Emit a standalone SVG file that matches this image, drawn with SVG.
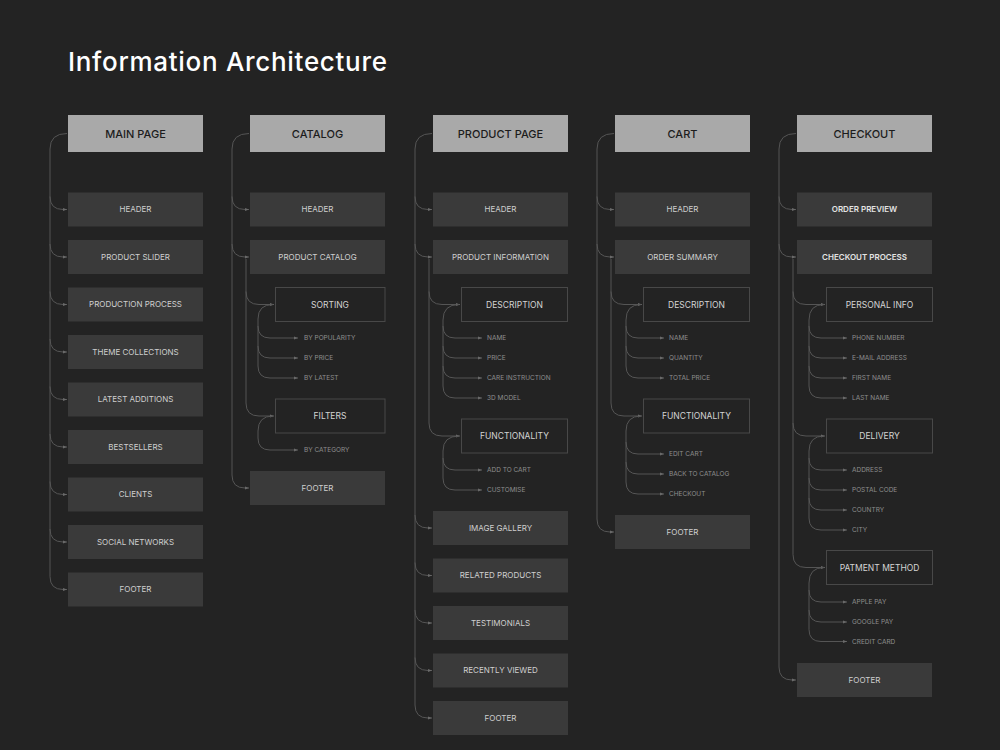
<svg xmlns="http://www.w3.org/2000/svg" width="1000" height="750" viewBox="0 0 1000 750">
<defs>
<marker id="ar" viewBox="0 0 4 4" refX="4" refY="2" markerWidth="4" markerHeight="4" markerUnits="userSpaceOnUse" orient="auto">
<path d="M0,0.6 L4,2 L0,3.4 Z" fill="#6a6a6a"/>
</marker>
<style>
text{font-family:Inter,"Noto Sans","Liberation Sans",sans-serif;text-anchor:middle}
.root rect{fill:#a9a9a9}
.root text{font-size:11px;font-weight:500;fill:#1c1c1c}
.l1 rect{fill:#3a3a3a}
.l1 text{font-size:8px;fill:#cfcfcf}
.l1b text{font-weight:600;fill:#e4e4e4}
.l2 rect{fill:none;stroke:#484848;stroke-width:1}
.l2 text{font-size:8.5px;fill:#d4d4d4}
.leaf{font-size:6.5px;fill:#8e8e8e;text-anchor:start}
#connectors path{fill:none;stroke:#555;stroke-width:1}
</style>
</defs>
<rect width="1000" height="750" fill="#232323"/>
<text x="68" y="71" style="font-size:26px;font-weight:500;fill:#fff;text-anchor:start;letter-spacing:0.7px">Information Architecture</text>

<g id="connectors">
<!-- main page -->
<path d="M67,133.5 Q50,133.5 50,149 V576.5 Q50,589.5 63,589.5 H67" marker-end="url(#ar)"/>
<path d="M50,196.5 Q50,209.5 63,209.5 H67" marker-end="url(#ar)"/>
<path d="M50,244 Q50,257 63,257 H67" marker-end="url(#ar)"/>
<path d="M50,291.5 Q50,304.5 63,304.5 H67" marker-end="url(#ar)"/>
<path d="M50,339 Q50,352 63,352 H67" marker-end="url(#ar)"/>
<path d="M50,386.5 Q50,399.5 63,399.5 H67" marker-end="url(#ar)"/>
<path d="M50,434 Q50,447 63,447 H67" marker-end="url(#ar)"/>
<path d="M50,481.5 Q50,494.5 63,494.5 H67" marker-end="url(#ar)"/>
<path d="M50,529 Q50,542 63,542 H67" marker-end="url(#ar)"/>
<!-- catalog -->
<path d="M249,133.5 Q232,133.5 232,149 V475 Q232,488 245,488 H249" marker-end="url(#ar)"/>
<path d="M232,196.5 Q232,209.5 245,209.5 H249" marker-end="url(#ar)"/>
<path d="M232,244 Q232,257 245,257 H249" marker-end="url(#ar)"/>
<path d="M246,259 V403 Q246,416 259,416 H274" marker-end="url(#ar)"/>
<path d="M246,291.5 Q246,304.5 259,304.5 H274" marker-end="url(#ar)"/>
<path d="M273,304.5 Q258,304.5 258,319 V366 Q258,378 270,378 H298" marker-end="url(#ar)"/>
<path d="M258,326 Q258,338 270,338 H298" marker-end="url(#ar)"/>
<path d="M258,346 Q258,358 270,358 H298" marker-end="url(#ar)"/>
<path d="M273,416 Q258,416 258,431 V438 Q258,450 270,450 H298" marker-end="url(#ar)"/>
<!-- product page -->
<path d="M432,133.5 Q415,133.5 415,149 V705 Q415,718 428,718 H432" marker-end="url(#ar)"/>
<path d="M415,196.5 Q415,209.5 428,209.5 H432" marker-end="url(#ar)"/>
<path d="M415,244 Q415,257 428,257 H432" marker-end="url(#ar)"/>
<path d="M415,515 Q415,528 428,528 H432" marker-end="url(#ar)"/>
<path d="M415,562.5 Q415,575.5 428,575.5 H432" marker-end="url(#ar)"/>
<path d="M415,610 Q415,623 428,623 H432" marker-end="url(#ar)"/>
<path d="M415,657.5 Q415,670.5 428,670.5 H432" marker-end="url(#ar)"/>
<path d="M429,259 V423 Q429,436 442,436 H460" marker-end="url(#ar)"/>
<path d="M429,291.5 Q429,304.5 442,304.5 H460" marker-end="url(#ar)"/>
<path d="M459,304.5 Q443,304.5 443,320 V386 Q443,398 455,398 H482" marker-end="url(#ar)"/>
<path d="M443,326 Q443,338 455,338 H482" marker-end="url(#ar)"/>
<path d="M443,346 Q443,358 455,358 H482" marker-end="url(#ar)"/>
<path d="M443,366 Q443,378 455,378 H482" marker-end="url(#ar)"/>
<path d="M459,436 Q443,436 443,451 V478 Q443,490 455,490 H482" marker-end="url(#ar)"/>
<path d="M443,458 Q443,470 455,470 H482" marker-end="url(#ar)"/>
<!-- cart -->
<path d="M614,133.5 Q597,133.5 597,149 V519 Q597,532 610,532 H614" marker-end="url(#ar)"/>
<path d="M597,196.5 Q597,209.5 610,209.5 H614" marker-end="url(#ar)"/>
<path d="M597,244 Q597,257 610,257 H614" marker-end="url(#ar)"/>
<path d="M611,259 V403 Q611,416 624,416 H642" marker-end="url(#ar)"/>
<path d="M611,291.5 Q611,304.5 624,304.5 H642" marker-end="url(#ar)"/>
<path d="M641,304.5 Q626,304.5 626,320 V366 Q626,378 638,378 H664" marker-end="url(#ar)"/>
<path d="M626,326 Q626,338 638,338 H664" marker-end="url(#ar)"/>
<path d="M626,346 Q626,358 638,358 H664" marker-end="url(#ar)"/>
<path d="M641,416 Q626,416 626,431 V482 Q626,494 638,494 H664" marker-end="url(#ar)"/>
<path d="M626,442 Q626,454 638,454 H664" marker-end="url(#ar)"/>
<path d="M626,462 Q626,474 638,474 H664" marker-end="url(#ar)"/>
<!-- checkout -->
<path d="M796,133.5 Q779,133.5 779,149 V667 Q779,680 792,680 H796" marker-end="url(#ar)"/>
<path d="M779,196.5 Q779,209.5 792,209.5 H796" marker-end="url(#ar)"/>
<path d="M779,244 Q779,257 792,257 H796" marker-end="url(#ar)"/>
<path d="M793,259 V554.5 Q793,567.5 806,567.5 H825" marker-end="url(#ar)"/>
<path d="M793,291.5 Q793,304.5 806,304.5 H825" marker-end="url(#ar)"/>
<path d="M793,423 Q793,436 806,436 H825" marker-end="url(#ar)"/>
<path d="M824,304.5 Q809,304.5 809,320 V386 Q809,398 821,398 H847" marker-end="url(#ar)"/>
<path d="M809,326 Q809,338 821,338 H847" marker-end="url(#ar)"/>
<path d="M809,346 Q809,358 821,358 H847" marker-end="url(#ar)"/>
<path d="M809,366 Q809,378 821,378 H847" marker-end="url(#ar)"/>
<path d="M824,436 Q809,436 809,451 V518 Q809,530 821,530 H847" marker-end="url(#ar)"/>
<path d="M809,458 Q809,470 821,470 H847" marker-end="url(#ar)"/>
<path d="M809,478 Q809,490 821,490 H847" marker-end="url(#ar)"/>
<path d="M809,498 Q809,510 821,510 H847" marker-end="url(#ar)"/>
<path d="M824,567.5 Q809,567.5 809,583 V629.5 Q809,641.5 821,641.5 H847" marker-end="url(#ar)"/>
<path d="M809,590 Q809,602 821,602 H847" marker-end="url(#ar)"/>
<path d="M809,610 Q809,622 821,622 H847" marker-end="url(#ar)"/>
</g>

<!-- MAIN PAGE column -->
<g id="main-page" class="root"><rect x="68" y="115" width="135" height="37"/><text x="135.5" y="137.5">MAIN PAGE</text></g>
<g id="mp-header" class="l1"><rect x="68" y="192.5" width="135" height="34"/><text x="135.5" y="212.4">HEADER</text></g>
<g id="mp-slider" class="l1"><rect x="68" y="240" width="135" height="34"/><text x="135.5" y="259.9">PRODUCT SLIDER</text></g>
<g id="mp-process" class="l1"><rect x="68" y="287.5" width="135" height="34"/><text x="135.5" y="307.4">PRODUCTION PROCESS</text></g>
<g id="mp-theme" class="l1"><rect x="68" y="335" width="135" height="34"/><text x="135.5" y="354.9">THEME COLLECTIONS</text></g>
<g id="mp-latest" class="l1"><rect x="68" y="382.5" width="135" height="34"/><text x="135.5" y="402.4">LATEST ADDITIONS</text></g>
<g id="mp-best" class="l1"><rect x="68" y="430" width="135" height="34"/><text x="135.5" y="449.9">BESTSELLERS</text></g>
<g id="mp-clients" class="l1"><rect x="68" y="477.5" width="135" height="34"/><text x="135.5" y="497.4">CLIENTS</text></g>
<g id="mp-social" class="l1"><rect x="68" y="525" width="135" height="34"/><text x="135.5" y="544.9">SOCIAL NETWORKS</text></g>
<g id="mp-footer" class="l1"><rect x="68" y="572.5" width="135" height="34"/><text x="135.5" y="592.4">FOOTER</text></g>

<!-- CATALOG column -->
<g id="catalog" class="root"><rect x="250" y="115" width="135" height="37"/><text x="317.5" y="137.5">CATALOG</text></g>
<g id="cat-header" class="l1"><rect x="250" y="192.5" width="135" height="34"/><text x="317.5" y="212.4">HEADER</text></g>
<g id="cat-catalog" class="l1"><rect x="250" y="240" width="135" height="34"/><text x="317.5" y="259.9">PRODUCT CATALOG</text></g>
<g id="cat-sorting" class="l2"><rect x="275.5" y="287.5" width="109.5" height="34"/><text x="330" y="307.6">SORTING</text></g>
<g id="cat-sorting-leaves"><text class="leaf" x="304" y="340.4">BY POPULARITY</text><text class="leaf" x="304" y="360.4">BY PRICE</text><text class="leaf" x="304" y="380.4">BY LATEST</text></g>
<g id="cat-filters" class="l2"><rect x="275.5" y="399" width="109.5" height="34"/><text x="330" y="419.1">FILTERS</text></g>
<g id="cat-filters-leaves"><text class="leaf" x="304" y="452.4">BY CATEGORY</text></g>
<g id="cat-footer" class="l1"><rect x="250" y="471" width="135" height="34"/><text x="317.5" y="490.9">FOOTER</text></g>

<!-- PRODUCT PAGE column -->
<g id="product-page" class="root"><rect x="433" y="115" width="135" height="37"/><text x="500.5" y="137.5">PRODUCT PAGE</text></g>
<g id="pp-header" class="l1"><rect x="433" y="192.5" width="135" height="34"/><text x="500.5" y="212.4">HEADER</text></g>
<g id="pp-info" class="l1"><rect x="433" y="240" width="135" height="34"/><text x="500.5" y="259.9">PRODUCT INFORMATION</text></g>
<g id="pp-description" class="l2"><rect x="461.5" y="287.5" width="106" height="34"/><text x="514.5" y="307.6">DESCRIPTION</text></g>
<g id="pp-description-leaves"><text class="leaf" x="487" y="340.4">NAME</text><text class="leaf" x="487" y="360.4">PRICE</text><text class="leaf" x="487" y="380.4">CARE INSTRUCTION</text><text class="leaf" x="487" y="400.4">3D MODEL</text></g>
<g id="pp-functionality" class="l2"><rect x="461.5" y="419" width="106" height="34"/><text x="514.5" y="439.1">FUNCTIONALITY</text></g>
<g id="pp-functionality-leaves"><text class="leaf" x="487" y="472.4">ADD TO CART</text><text class="leaf" x="487" y="492.4">CUSTOMISE</text></g>
<g id="pp-gallery" class="l1"><rect x="433" y="511" width="135" height="34"/><text x="500.5" y="530.9">IMAGE GALLERY</text></g>
<g id="pp-related" class="l1"><rect x="433" y="558.5" width="135" height="34"/><text x="500.5" y="578.4">RELATED PRODUCTS</text></g>
<g id="pp-testimonials" class="l1"><rect x="433" y="606" width="135" height="34"/><text x="500.5" y="625.9">TESTIMONIALS</text></g>
<g id="pp-recent" class="l1"><rect x="433" y="653.5" width="135" height="34"/><text x="500.5" y="673.4">RECENTLY VIEWED</text></g>
<g id="pp-footer" class="l1"><rect x="433" y="701" width="135" height="34"/><text x="500.5" y="720.9">FOOTER</text></g>

<!-- CART column -->
<g id="cart" class="root"><rect x="615" y="115" width="135" height="37"/><text x="682.5" y="137.5">CART</text></g>
<g id="cart-header" class="l1"><rect x="615" y="192.5" width="135" height="34"/><text x="682.5" y="212.4">HEADER</text></g>
<g id="cart-summary" class="l1"><rect x="615" y="240" width="135" height="34"/><text x="682.5" y="259.9">ORDER SUMMARY</text></g>
<g id="cart-description" class="l2"><rect x="643.5" y="287.5" width="106" height="34"/><text x="696.5" y="307.6">DESCRIPTION</text></g>
<g id="cart-description-leaves"><text class="leaf" x="669" y="340.4">NAME</text><text class="leaf" x="669" y="360.4">QUANTITY</text><text class="leaf" x="669" y="380.4">TOTAL PRICE</text></g>
<g id="cart-functionality" class="l2"><rect x="643.5" y="399" width="106" height="34"/><text x="696.5" y="419.1">FUNCTIONALITY</text></g>
<g id="cart-functionality-leaves"><text class="leaf" x="669" y="456.4">EDIT CART</text><text class="leaf" x="669" y="476.4">BACK TO CATALOG</text><text class="leaf" x="669" y="496.4">CHECKOUT</text></g>
<g id="cart-footer" class="l1"><rect x="615" y="515" width="135" height="34"/><text x="682.5" y="534.9">FOOTER</text></g>

<!-- CHECKOUT column -->
<g id="checkout" class="root"><rect x="797" y="115" width="135" height="37"/><text x="864.5" y="137.5">CHECKOUT</text></g>
<g id="co-preview" class="l1 l1b"><rect x="797" y="192.5" width="135" height="34"/><text x="864.5" y="212.4">ORDER PREVIEW</text></g>
<g id="co-process" class="l1 l1b"><rect x="797" y="240" width="135" height="34"/><text x="864.5" y="259.9">CHECKOUT PROCESS</text></g>
<g id="co-personal" class="l2"><rect x="826.5" y="287.5" width="106" height="34"/><text x="879.5" y="307.6">PERSONAL INFO</text></g>
<g id="co-personal-leaves"><text class="leaf" x="852" y="340.4">PHONE NUMBER</text><text class="leaf" x="852" y="360.4">E-MAIL ADDRESS</text><text class="leaf" x="852" y="380.4">FIRST NAME</text><text class="leaf" x="852" y="400.4">LAST NAME</text></g>
<g id="co-delivery" class="l2"><rect x="826.5" y="419" width="106" height="34"/><text x="879.5" y="439.1">DELIVERY</text></g>
<g id="co-delivery-leaves"><text class="leaf" x="852" y="472.4">ADDRESS</text><text class="leaf" x="852" y="492.4">POSTAL CODE</text><text class="leaf" x="852" y="512.4">COUNTRY</text><text class="leaf" x="852" y="532.4">CITY</text></g>
<g id="co-payment" class="l2"><rect x="826.5" y="550.5" width="106" height="34"/><text x="879.5" y="570.6">PATMENT METHOD</text></g>
<g id="co-payment-leaves"><text class="leaf" x="852" y="604.4">APPLE PAY</text><text class="leaf" x="852" y="624.4">GOOGLE PAY</text><text class="leaf" x="852" y="643.9">CREDIT CARD</text></g>
<g id="co-footer" class="l1"><rect x="797" y="663" width="135" height="34"/><text x="864.5" y="682.9">FOOTER</text></g>
</svg>
